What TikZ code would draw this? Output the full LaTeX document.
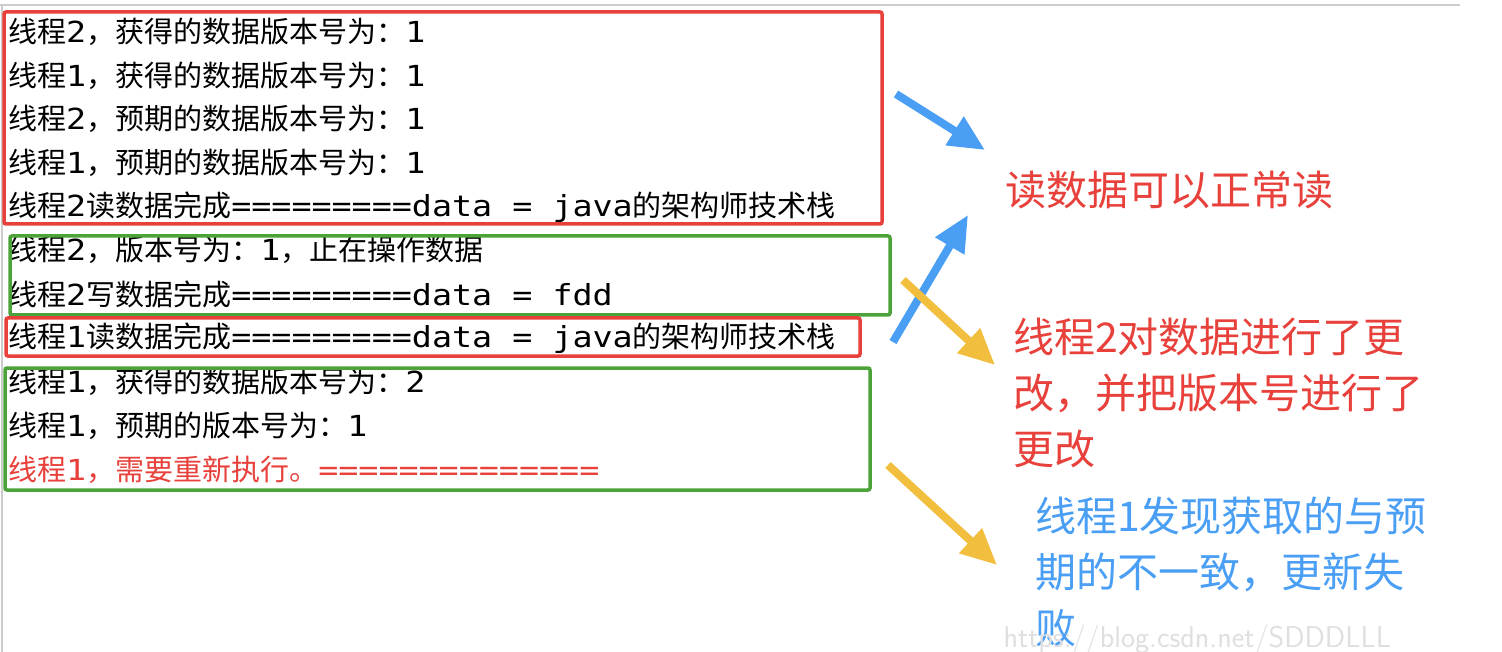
\documentclass[tikz,border=0pt]{standalone}
\usepackage{fontspec}
\setmainfont[FakeStretch=1.15]{DejaVu Sans Mono}
\newfontfamily\cjk{Noto Sans CJK SC}
\usetikzlibrary{arrows.meta}
\definecolor{rd}{HTML}{E8403A}
\definecolor{gr}{HTML}{4CA33A}
\definecolor{bl}{HTML}{4A9FF5}
\definecolor{yl}{HTML}{F2BE3E}
\newcommand{\C}[1]{{\cjk #1}}
\tikzset{
 ln/.style={anchor=west,inner sep=0pt,font=\fontsize{29}{30}\selectfont},
 rbox/.style={draw=rd,line width=3.5pt,rounded corners=2pt},
 gbox/.style={draw=gr,line width=3.5pt,rounded corners=2pt},
 fat/.style={line width=8pt,-{Triangle[length=36pt,width=32pt]}},
 note/.style={anchor=west,inner sep=0pt,align=left,font=\cjk\fontsize{41}{56}\selectfont},
}
\begin{document}
\begin{tikzpicture}[x=1pt,y=-1pt]
\useasboundingbox[fill=white] (0,0) rectangle (1502,652);
\draw[gray!40,line width=2pt] (0,5) -- (1460,5);
\draw[gray!40,line width=2pt] (2,5) -- (2,652);
\node[ln] (l1) at (8,32) {\C{线程}2\C{，获得的数据版本号为：}1};
\node[ln] (l2) at (8,76) {\C{线程}1\C{，获得的数据版本号为：}1};
\node[ln] (l3) at (8,119) {\C{线程}2\C{，预期的数据版本号为：}1};
\node[ln] (l4) at (8,163) {\C{线程}1\C{，预期的数据版本号为：}1};
\node[ln] (l5) at (8,207) {\C{线程}2\C{读数据完成}=========data = java\C{的架构师技术栈}};
\node[ln] (l6) at (8,250) {\C{线程}2\C{，版本号为：}1\C{，止在操作数据}};
\node[ln] (l7) at (8,294) {\C{线程}2\C{写数据完成}=========data = fdd};
\node[ln] (l8) at (8,338) {\C{线程}1\C{读数据完成}=========data = java\C{的架构师技术栈}};
\node[ln] (l9) at (8,382) {\C{线程}1\C{，获得的数据版本号为：}2};
\node[ln] (l10) at (8,426) {\C{线程}1\C{，预期的版本号为：}1};
\node[ln,text=rd] (l11) at (8,470) {\C{线程}1\C{，需要重新执行。}==============};
\node[rbox,minimum width=878pt,minimum height=212pt] (b1) at (443,118) {};
\node[gbox,minimum width=880pt,minimum height=79pt] (b2) at (450,275.5) {};
\node[rbox,minimum width=854pt,minimum height=38pt] (b3) at (433,337) {};
\node[gbox,minimum width=865pt,minimum height=122pt] (b4) at (437.5,429) {};
\node[note,text=rd] (t1) at (1005,190) {读数据可以正常读};
\node[note,text=rd,anchor=north west] (t2) at (1013,318) {线程2对数据进行了更\\改，并把版本号进行了\\更改};
\node[note,text=bl,anchor=north west] (t3) at (1035,497) {线程1发现获取的与预\\期的不一致，更新失\\败};
\node[anchor=west,text=gray!25,font=\fontsize{30}{30}\selectfont\sffamily] (wm) at (1000,640) {https://blog.csdn.net/SDDDLLL};
\coordinate (a1s) at (896,94); \coordinate (a1e) at (985,150);
\coordinate (a2s) at (893,342); \coordinate (a2e) at (968,215);
\coordinate (a3s) at (903,280); \coordinate (a3e) at (995,365);
\coordinate (a4s) at (888,465); \coordinate (a4e) at (997,565);
\draw[fat,bl] (a1s) -- (a1e);
\draw[fat,bl] (a2s) -- (a2e);
\draw[fat,yl] (a3s) -- (a3e);
\draw[fat,yl] (a4s) -- (a4e);
\end{tikzpicture}
\end{document}
